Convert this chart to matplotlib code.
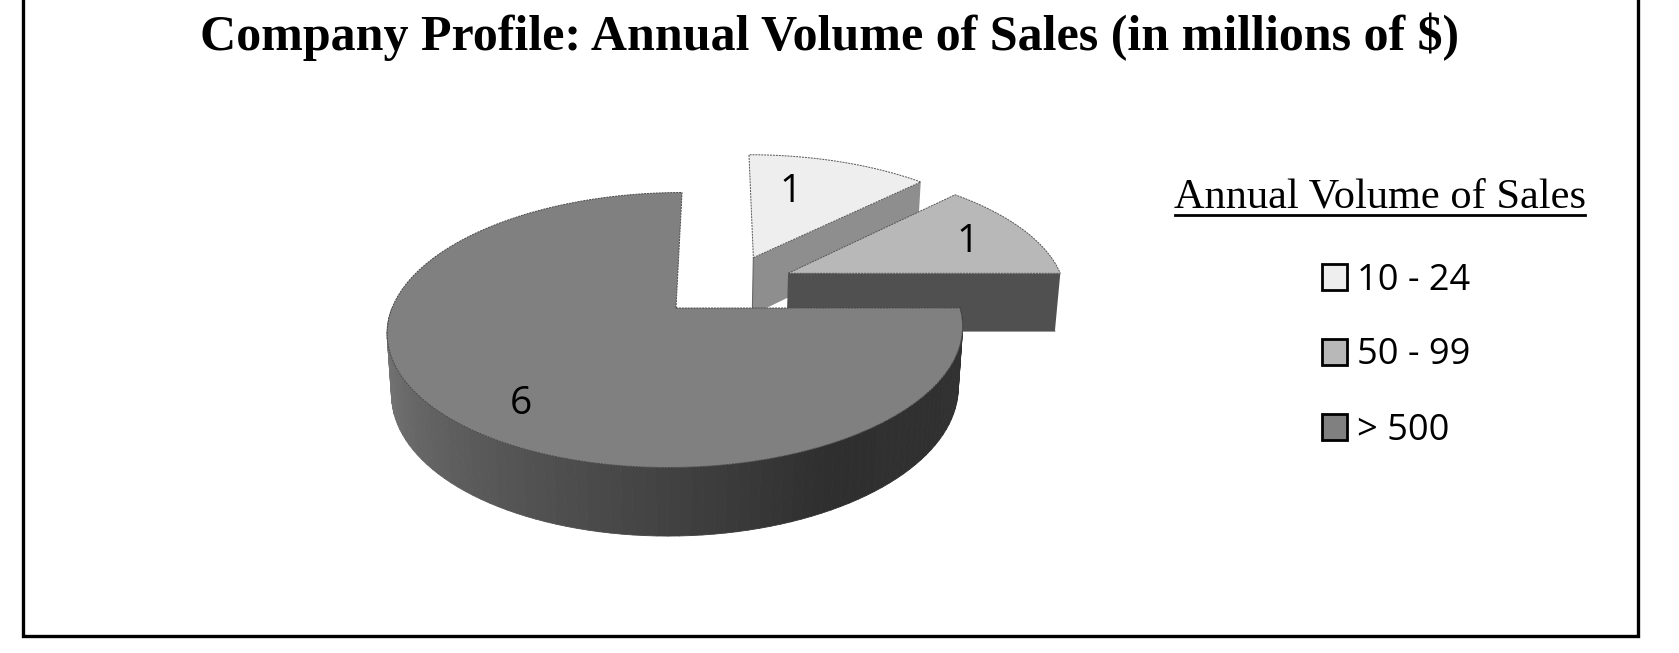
import numpy as np
import matplotlib
matplotlib.use('Agg')
import matplotlib.pyplot as plt
from matplotlib.collections import PolyCollection
from matplotlib.patches import Polygon, Patch

title = 'Company Profile: Annual Volume of Sales (in millions of $)'
legend_title = 'Annual Volume of Sales'
categories = ['10 - 24', '50 - 99', '> 500']
values = [1, 1, 6]
colors = ['#eeeeee', '#b8b8b8', '#808080']

# how far each slice is pulled out, in pie radii
explode_x = [0.28, 0.405, 0.0]
explode_y = [0.40, 0.27, 0.0]

# fake 3D camera, everything below is in image pixels
cx, cy, rx, ry, depth = 676, 308, 284, 134, 61
persp, persp_z, skew = 0.16, 0.015, 7


def project(x, y, z=0.0):
    w = 1 + persp * y + persp_z * z
    return cx + (rx * x + skew * y) / w, cy - ry * y / w + depth * z / w


def arc_points(t1, t2, dx, dy, z=0.0):
    t = np.radians(np.linspace(t1, t2, 90))
    px, py = project(np.cos(t) + dx, np.sin(t) + dy, z)
    return np.column_stack([px, py])


def rim_color(t):
    # rim goes dark from left to right
    f = (t - 180) / 180
    g = 125 - 78 * min(f / 0.65, 1) if f < 0.65 else 47 + 8 * (f - 0.65)
    return (g / 255, g / 255, g / 255)


fig = plt.figure(figsize=(16.79, 6.53), dpi=100)
ax = fig.add_axes([0, 0, 1, 1])
ax.set_xlim(0, 1679)
ax.set_ylim(653, 0)
ax.axis('off')

# slices clockwise from 12 o'clock
angles = 90 - np.cumsum([0] + values) / sum(values) * 360

# box, no top line in the original
ax.plot([23, 23, 1638, 1638], [0, 636, 636, 0], color='black', lw=2.4, solid_joinstyle='miter')

for i in range(2):
    t1, t2 = angles[i + 1], angles[i]
    dx, dy = explode_x[i], explode_y[i]
    apex_top = project(dx, dy)
    apex_bot = project(dx, dy, 1)
    end_top = arc_points(t1, t1, dx, dy)[0]
    end_bot = arc_points(t1, t1, dx, dy, 1)[0]
    side = '#8e8e8e' if i == 0 else '#505050'
    ax.add_patch(Polygon([apex_top, end_top, end_bot, apex_bot], fc=side, ec='none', zorder=2 + i))
    if i == 0:
        ax.plot(*zip(apex_top, apex_bot), color='#666666', lw=0.8, zorder=2)
    else:
        # thin light strip under the front face
        ax.plot(*zip(apex_bot, end_bot), color='#cccccc', lw=1.2, zorder=2.5)
    top = np.vstack([[apex_top], arc_points(t1, t2, dx, dy)])
    ax.add_patch(Polygon(top, fc=colors[i], ec='#555555', lw=0.7, ls=(0, (2, 1)), zorder=2 + i))

# big slice: rim first then the top
t1, t2 = angles[3], angles[2]
edges = np.arange(180, 361, 2)
facets = []
shades = []
for a, b in zip(edges[:-1], edges[1:]):
    up = arc_points(a, b, 0, 0)[[0, -1]]
    low = arc_points(a, b, 0, 0, 1)[[0, -1]]
    facets.append([up[0], up[1], low[1], low[0]])
    shades.append(rim_color(a))
ax.add_collection(PolyCollection(facets, facecolors=shades, edgecolors=shades, linewidths=0.6, zorder=5))

apex = project(0, 0)
top = np.vstack([[apex], arc_points(t1, t2, 0, 0)])
ax.add_patch(Polygon(top, fc=colors[2], ec='#4a4a4a', lw=0.7, ls=(0, (2, 1)), zorder=6))

label_x = [791, 968, 521]
label_y = [192, 242, 404]
for v, lx, ly in zip(values, label_x, label_y):
    ax.text(lx, ly, str(v), fontsize=28, family='Open Sans', ha='center', va='center', zorder=8)

ax.text(830, 37, title, fontsize=36, family='Liberation Serif', weight='bold', ha='center', va='center')

ax.text(1380, 207, legend_title, fontsize=30.5, family='Liberation Serif', ha='center', va='baseline')
ax.plot([1175, 1585], [215, 215], color='black', lw=2)

handles = [Patch(facecolor=c, edgecolor='black', linewidth=2) for c in colors]
leg = ax.legend(handles, categories, loc='upper left', bbox_to_anchor=(1289, 230),
                bbox_transform=ax.transData, frameon=False, prop={'family': 'Open Sans', 'size': 26},
                handlelength=0.7, handleheight=0.7, handletextpad=0.28, labelspacing=1.08)

fig.savefig('out.png', dpi=100)
